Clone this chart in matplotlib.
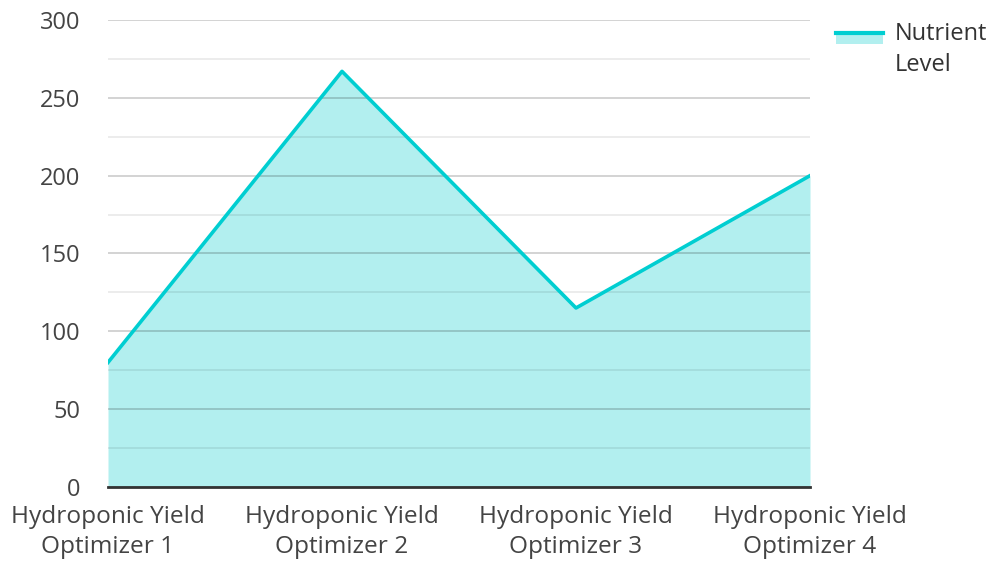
import matplotlib
matplotlib.use("Agg")
import matplotlib.pyplot as plt
from matplotlib.legend_handler import HandlerBase
from matplotlib.patches import Rectangle
from matplotlib.lines import Line2D

plt.rcParams['font.family'] = ['Open Sans', 'DejaVu Sans']

categories = ["Hydroponic Yield\nOptimizer 1", "Hydroponic Yield\nOptimizer 2",
              "Hydroponic Yield\nOptimizer 3", "Hydroponic Yield\nOptimizer 4"]
nutrient_level = [80, 267, 115, 200]
series_name = "Nutrient\nLevel"

line_color = "#00CED1"
fill_color = "#B2EFEF"
fs = 17


class LineFillHandler(HandlerBase):
    def create_artists(self, legend, orig_handle, xdescent, ydescent,
                       width, height, fontsize, trans):
        top = -ydescent + height + 0.38 * fontsize
        rect = Rectangle((-xdescent, top - 0.45 * fontsize), width, 0.45 * fontsize,
                         facecolor=fill_color, edgecolor="none", transform=trans)
        line = Line2D([-xdescent, -xdescent + width], [top, top],
                      color=line_color, lw=3, transform=trans)
        return [rect, line]


fig = plt.figure(figsize=(9.97, 5.62), dpi=100)
ax = fig.add_axes([108 / 997, 1 - 487 / 562, (810 - 108) / 997, (487 - 20) / 562])

x = list(range(len(categories)))
ax.fill_between(x, nutrient_level, 0, color=fill_color, lw=0, zorder=1)
ax.plot(x, nutrient_level, color=line_color, lw=2.6, zorder=3)

ax.set_xlim(0, len(categories) - 1)
ax.set_ylim(0, 300)
ax.set_yticks(range(0, 301, 50))
ax.set_yticks(range(25, 300, 50), minor=True)
ax.set_xticks(x)
ax.set_xticklabels(categories, linespacing=1.35)

ax.set_axisbelow(False)
ax.grid(axis='y', which='major', color='black', alpha=0.2, lw=1.2)
ax.grid(axis='y', which='minor', color='black', alpha=0.09, lw=1.2)

for side in ['top', 'right', 'left']:
    ax.spines[side].set_visible(False)
ax.spines['bottom'].set_color('#333333')
ax.spines['bottom'].set_linewidth(2)
ax.spines['bottom'].set_zorder(4)

ax.tick_params(axis='both', which='both', length=0, labelsize=fs, labelcolor='#444444')
ax.tick_params(axis='x', labelsize=17.6, pad=13)
ax.tick_params(axis='y', pad=20)

leg = fig.legend([object()], [series_name], handler_map={object: LineFillHandler()},
                 loc='upper left', bbox_to_anchor=(836 / 997, 1 - 22 / 562),
                 frameon=False, fontsize=fs, handlelength=2.0, handletextpad=0.47,
                 borderpad=0, borderaxespad=0, labelcolor='#333333')
for t in leg.get_texts():
    t.set_linespacing(1.4)

fig.savefig("out.png", dpi=100)
